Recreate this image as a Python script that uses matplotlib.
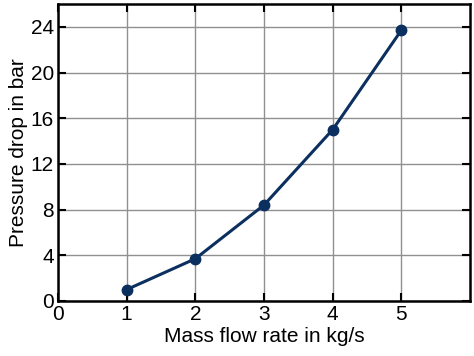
import matplotlib.pyplot as plt
import numpy as np

# Data
mass_flow = [1, 2, 3, 4, 5]
pressure_drop = [1.0, 3.7, 8.4, 15.0, 23.7]
x_ticks = [0, 1, 2, 3, 4, 5]
y_ticks = [0, 4, 8, 12, 16, 20, 24]

plt.rcParams['font.family'] = ['Liberation Sans', 'DejaVu Sans']

fig = plt.figure(figsize=(4.74, 3.56), dpi=100)
ax = fig.add_axes([58 / 474, 1 - 301 / 356, 412 / 474, 297 / 356])

ax.plot(mass_flow, pressure_drop, color="#0b2f5e", linewidth=2.2,
        marker="o", markersize=7.5, zorder=3)

ax.set_xlim(0, 6)
ax.set_ylim(0, 26)
ax.set_xticks(x_ticks)
ax.set_yticks(y_ticks)
ax.grid(True, color="#909090", linewidth=1.0)

ax.tick_params(direction="in", length=6, width=1.5, labelsize=15,
               top=True, right=True, pad=3)
for spine in ax.spines.values():
  spine.set_linewidth(1.8)

ax.set_xlabel("Mass flow rate in kg/s", fontsize=15, labelpad=2)
ax.set_ylabel("Pressure drop in bar", fontsize=15, labelpad=2)

fig.savefig("out.png", dpi=100)
